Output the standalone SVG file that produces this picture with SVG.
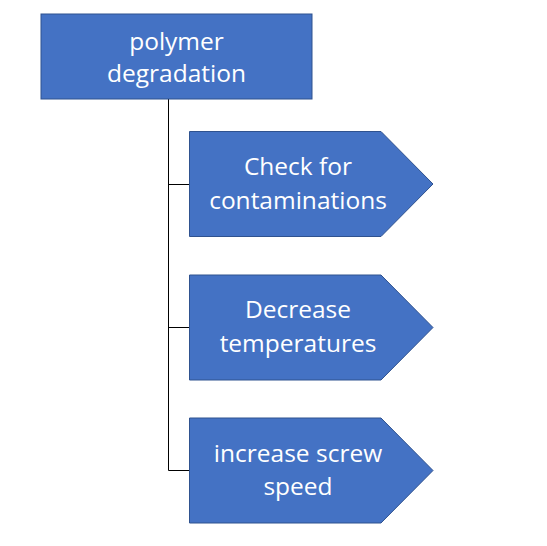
<svg xmlns="http://www.w3.org/2000/svg" width="547" height="546" viewBox="0 0 547 546">
<style>
.box{fill:#4472C4;stroke:#2F528F;stroke-width:1}
.t{fill:#FFFFFF;font-family:"Open Sans","Liberation Sans",sans-serif;font-size:24.5px;text-anchor:middle}
.c{fill:none;stroke:#000000;stroke-width:1}
</style>
<rect width="547" height="546" fill="#FFFFFF"/>
<g id="connectors">
<path class="c" d="M168.5 99 V470.5 H189.5"/>
<path class="c" d="M168.5 184.5 H189.5"/>
<path class="c" d="M168.5 327.5 H189.5"/>
</g>
<g id="n0">
<rect class="box" x="41" y="14" width="271" height="85"/>
<text class="t" x="176.5" y="50">polymer</text>
<text class="t" x="176.5" y="82">degradation</text>
</g>
<g id="n1">
<polygon class="box" points="189.5,131.5 381,131.5 433,184 381,236.5 189.5,236.5"/>
<text class="t" x="298" y="175">Check for</text>
<text class="t" x="298" y="209">contaminations</text>
</g>
<g id="n2">
<polygon class="box" points="189.5,275 381,275 433,327.5 381,380 189.5,380"/>
<text class="t" x="298" y="318">Decrease</text>
<text class="t" x="298" y="352">temperatures</text>
</g>
<g id="n3">
<polygon class="box" points="189.5,418 381,418 433,470.5 381,523 189.5,523"/>
<text class="t" x="298" y="462">increase screw</text>
<text class="t" x="298" y="495">speed</text>
</g>
</svg>
